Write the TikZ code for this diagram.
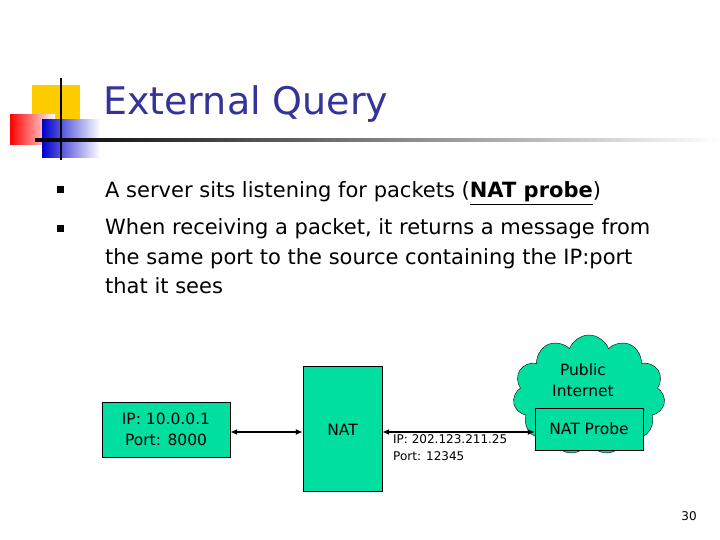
\documentclass[tikz,border=0pt]{standalone}
\usepackage{fontspec}
\setmainfont{DejaVu Sans}
\usetikzlibrary{shapes.symbols,arrows.meta}
\definecolor{tblue}{RGB}{51,51,153}
\definecolor{sea}{RGB}{0,222,160}
\definecolor{gold}{RGB}{255,204,0}
\begin{document}
\begin{tikzpicture}[x=1pt,y=-1pt,
  box/.style={draw=black,fill=sea,inner sep=0pt},
  lbl/.style={font=\fontsize{15.5}{21}\selectfont,align=center},
  body/.style={font=\fontsize{21}{29}\selectfont,anchor=base west,inner sep=0pt},
  conn/.style={line width=1.5pt,{Latex[length=7pt,width=6pt]}-{Latex[length=7pt,width=6pt]}}]
\useasboundingbox (0,0) rectangle (720,540);
\fill[white] (0,0) rectangle (720,540);
% decoration
\fill[gold] (32,85) rectangle (80,125);
\shade[left color=red,right color=white] (10,115) rectangle (55,145);
\shade[left color=blue!80!black,right color=white] (42,120) rectangle (100,158);
\draw[line width=1.2pt] (61,78) -- (61,160);
\shade[left color=black,right color=white] (35,139) rectangle (720,141.5);
\node[anchor=base west,text=tblue,font=\fontsize{38}{44}\selectfont,inner sep=0pt] (title) at (103,115) {External Query};
% bullets
\fill (57,186) rectangle (64,193);
\fill (57,225) rectangle (64,232);
\node[body] (b1) at (105,198) {A server sits listening for packets (\textbf{\underline{NAT probe}})};
\node[body] (b2) at (105,235) {When receiving a packet, it returns a message from};
\node[body] (b3) at (105,264) {the same port to the source containing the IP:port};
\node[body] (b4) at (105,293) {that it sees};
% cloud
\node[cloud,cloud puffs=11,cloud puff arc=140,aspect=1.3,draw,fill=sea,minimum width=152pt,minimum height=120pt] (cloud) at (589,395) {};
\node[lbl] (pi) at (583,380) {Public\\Internet};
\node[box,minimum width=108pt,minimum height=42pt] (probe) at (589,429) {};
\node[lbl] at (probe) {NAT Probe};
\node[box,minimum width=128pt,minimum height=55pt] (host) at (166,429.5) {};
\node[lbl] at (host) {IP: 10.0.0.1\\Port: 8000};
\node[box,minimum width=79pt,minimum height=125pt] (nat) at (342.5,428.5) {};
\node[lbl] at (342.5,430) {NAT};
\draw[conn] (host.east |- 0,432) -- (nat.west |- 0,432);
\draw[conn] (nat.east |- 0,432) -- (probe.west |- 0,432);
\node[anchor=north west,align=left,font=\fontsize{12}{17}\selectfont,inner sep=0pt] (ext) at (393,434) {IP: 202.123.211.25\\Port: 12345};
\node[font=\fontsize{12}{14}\selectfont] (pg) at (689,516) {30};
\end{tikzpicture}
\end{document}
